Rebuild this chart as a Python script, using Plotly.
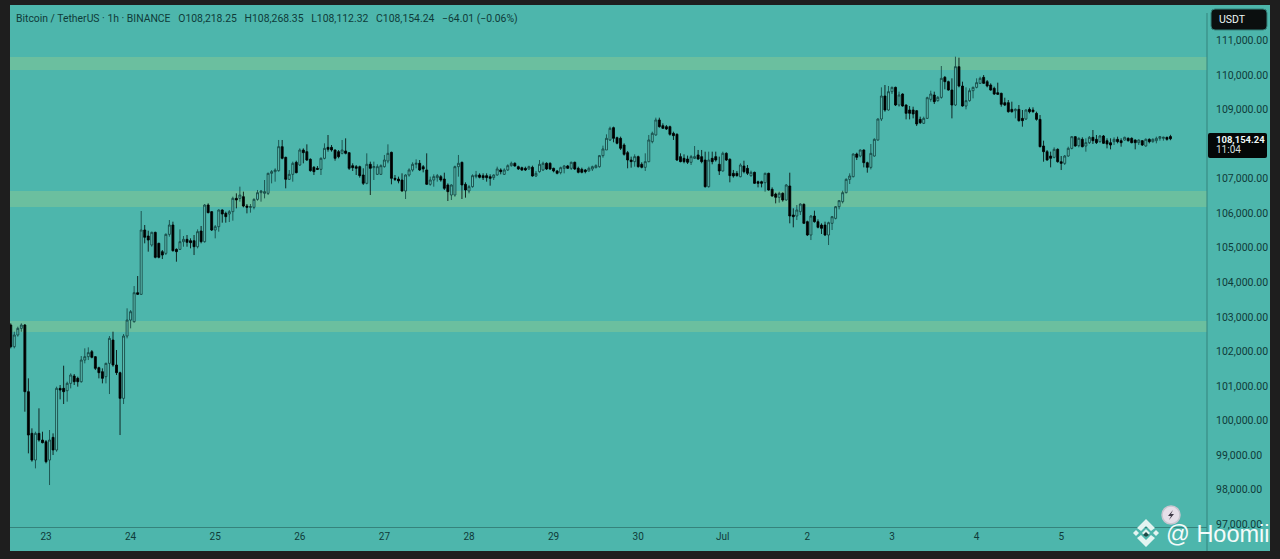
"""BTC/USDT 1h candles with three supply/demand bands, TradingView look."""

import pandas as pd
import plotly.graph_objects as go

# ── data ─────────────────────────────────────────────────────────────────────

FIRST_BAR = "2025-06-22 14:00"

opens = [
    102764,102137,102475,102668,102764,100835,99630,98857,99629,99436,
    99388,98857,99513,99147,100931,100931,100864,101076,101288,101221,
    101124,101751,101848,101993,101848,101530,101414,101269,101655,102330,
    101607,101385,100642,102446,102909,102861,103700,103652,105514,105340,
    105080,105446,105128,104887,104838,105388,105658,104954,104954,105176,
    105244,105205,105205,105031,105485,105176,106237,106045,105514,105610,
    106093,105996,105977,106045,106430,106430,106479,106208,106170,106170,
    106401,106594,106575,106575,107154,107202,107231,107926,107617,106980,
    107125,107472,107395,107829,107781,107559,107328,107299,107270,107588,
    107906,107906,107829,107781,107733,107801,107752,107376,107347,107347,
    107106,106865,107415,107318,107125,107125,107347,107511,107762,107009,
    106990,106961,106643,107106,107251,107415,107444,107347,107251,106836,
    106961,107029,107058,106990,106817,106527,106527,107347,107473,106836,
    106643,106768,107058,107106,107087,107087,107058,107029,107106,107251,
    107125,107251,107376,107444,107347,107318,107299,107280,107328,107077,
    107203,107251,107444,107444,107299,107222,107174,107299,107367,107299,
    107473,107299,107270,107251,107222,107280,107318,107347,107666,107830,
    108119,108476,108187,108167,107974,107752,107540,107492,107637,107415,
    107328,107492,108071,108264,108698,108534,108505,108505,108312,108283,
    107637,107588,107569,107473,107588,107685,107637,107540,106768,107588,
    107637,107415,107222,107733,107560,107154,107154,107057,107366,107298,
    107086,107183,106912,106912,106884,107154,106691,106555,106459,106575,
    106382,106787,105948,105919,106044,106256,105755,105369,105919,105755,
    105658,105658,105369,105707,105851,106189,106334,106594,106980,107057,
    107713,107655,107829,107462,107327,107655,108118,108726,109392,108987,
    109517,109643,109131,109450,109131,108987,108987,108967,108716,108601,
    108745,109295,109421,109257,109353,109932,109807,109565,109131,110241,
    109681,109102,109257,109546,109643,109758,109932,109807,109710,109614,
    109488,109469,109199,109199,109006,108967,109006,108745,108726,109006,
    108987,108890,108716,107945,107781,107655,107617,107848,107491,107443,
    107655,107877,108215,107954,108138,107945,108041,108196,108138,108070,
    108234,108099,108041,108070,108138,108099,108118,108167,108167,108118,
    108041,108099,107945,108138,108070,108099,108167,108167,108196,108218.25,
]

highs = [
    102813,102571,102716,102813,102793,101221,99774,99677,100353,99677,
    99436,99726,99629,100980,101028,101587,101124,101366,101346,101269,
    101867,102089,102118,102041,101867,101558,101510,101674,102446,102571,
    102041,101414,102504,103247,103198,103893,104182,106064,105658,105494,
    105465,105465,105147,104935,105417,105803,105755,104983,105533,105340,
    105369,105273,105369,105533,105630,106266,106286,106064,105659,106112,
    106112,106045,106093,106479,106575,106768,106623,106266,106266,106430,
    106672,106672,106961,107173,107250,107299,108119,108119,107636,107250,
    107492,107520,107877,107877,107993,107588,107366,107366,107617,108022,
    108263,107974,107848,107829,108119,108167,107762,107444,107395,107376,
    107299,107733,107492,107492,107415,107415,107685,107993,107781,107106,
    107058,107154,107125,107299,107473,107559,107540,107395,107733,107058,
    107125,107135,107106,107173,106865,106836,107376,107685,107492,106894,
    106817,107125,107222,107154,107154,107154,107125,107125,107347,107299,
    107299,107415,107492,107473,107376,107347,107347,107376,107376,107222,
    107540,107492,107473,107473,107318,107251,107347,107396,107396,107492,
    107492,107347,107318,107280,107347,107376,107415,107685,107955,108283,
    108505,108505,108216,108216,108023,107801,107637,107704,107666,107473,
    107733,108264,108360,108765,108765,108601,108553,108534,108360,108312,
    107733,107704,107666,107685,107945,107830,107830,107781,107781,107781,
    107781,107637,107781,107762,107588,107251,107222,107443,107520,107395,
    107231,107202,106941,106941,107173,107173,106748,106594,106623,106604,
    106845,107173,106141,106237,106285,106285,105784,105948,106073,105822,
    105707,105755,105755,105919,106208,106382,106652,107009,107154,107732,
    107752,107848,107848,107491,108003,108167,108745,109643,109710,109681,
    109662,109662,109517,109469,109151,109102,109083,108987,108794,108794,
    109372,109546,109517,109392,110260,109971,109835,109903,110530,110501,
    109807,109643,109614,109662,109903,109951,109999,109855,109758,109662,
    109778,109488,109343,109276,109228,109035,109131,108987,109006,109064,
    109064,108938,108842,108099,107829,107781,107906,107877,107655,107684,
    107925,108234,108234,108196,108196,108167,108234,108408,108263,108263,
    108263,108167,108167,108196,108215,108167,108215,108196,108196,108138,
    108138,108118,108167,108167,108167,108215,108234,108215,108215,108268.35,
]

lows = [
    102089,102089,102427,102571,100256,99050,98809,98616,99388,99340,
    98761,98134,99002,99098,100613,100478,100546,100931,101028,100980,
    101095,101655,101751,101800,101462,101221,101076,101076,100767,101558,
    101317,99581,100478,102378,102668,102832,103633,103633,105128,104887,
    105031,104694,104694,104674,104790,105321,104887,104597,104935,105031,
    105031,104983,104790,104983,105128,105147,105996,105485,105273,105466,
    105726,105726,105745,105784,106141,106334,106170,105996,106016,106112,
    106363,106334,106430,106527,106864,106913,107202,107559,106720,106961,
    106913,107154,107366,107443,107511,107202,107106,107250,107106,107559,
    107781,107781,107520,107588,107704,107704,107251,107222,107106,107029,
    106817,106836,106527,106961,107106,107106,107318,107444,106836,106932,
    106865,106624,106411,107058,107202,107299,107222,107183,106817,106797,
    106768,106913,106913,106672,106353,106382,106479,107058,106411,106450,
    106575,106739,107009,107009,106961,106913,106797,106961,107087,107125,
    107106,107222,107347,107347,107251,107222,107222,107251,107058,107048,
    107174,107222,107251,107251,107183,107125,107125,107154,107280,107251,
    107251,107154,107154,107154,107203,107222,107299,107318,107608,107830,
    108090,108052,107994,107830,107666,107299,107318,107347,107318,107299,
    107222,107473,108023,108244,108476,108437,108408,108244,108119,107511,
    107473,107444,107424,107396,107569,107540,107444,106740,106740,107415,
    107492,107106,107203,107511,106894,107029,107058,107038,107154,107105,
    107057,106845,106748,106748,106623,106652,106478,106285,106305,106334,
    106363,105707,105591,105803,105948,105687,105340,105224,105726,105562,
    105398,105340,105079,105514,105822,106112,106285,106575,106845,107038,
    107539,107617,107327,107173,107269,107636,108099,108668,108938,108967,
    109450,109102,109083,109083,108716,108716,108745,108523,108581,108581,
    108726,109228,109160,109228,109315,109585,109546,108745,109102,109643,
    109083,109006,109228,109324,109614,109739,109739,109643,109546,109421,
    109421,109083,109102,108909,108909,108745,108649,108504,108697,108890,
    108909,108678,107906,107491,107520,107327,107588,107462,107250,107395,
    107636,107848,107925,107906,107906,107781,108003,108003,108003,108041,
    108003,107877,107848,107974,108022,107925,108099,108070,108022,107848,
    107974,107945,107925,108022,108041,108022,108099,108099,108099,108112.32,
]

closes = [
    102137,102475,102668,102764,100835,99581,98857,99629,99436,99359,
    98809,99436,99147,100931,100883,100835,101076,101317,101124,101124,
    101751,101848,101964,101829,101510,101385,101221,101655,102378,101607,
    101385,100642,102446,102909,103150,103700,103652,105514,105302,105224,
    105446,104723,104723,104790,105388,105658,104916,104887,105176,105244,
    105157,105147,105031,105466,105176,106237,106016,105514,105610,106093,
    105977,105900,106045,106430,106382,106527,106208,106170,106189,106401,
    106594,106643,106623,107154,107202,107250,107926,107588,106980,107125,
    107443,107173,107829,107752,107540,107231,107202,107270,107588,107877,
    107848,107829,107588,107636,107829,107733,107299,107318,107299,107087,
    106865,107415,107299,107347,107347,107376,107540,107733,107009,106981,
    106932,106643,107106,107251,107415,107444,107251,107280,106836,106961,
    107058,107087,106961,106720,106624,106817,107347,107444,106817,106672,
    106768,107087,107106,107038,107029,107029,107009,107106,107280,107202,
    107251,107376,107444,107366,107280,107251,107251,107347,107077,107154,
    107415,107444,107280,107280,107222,107154,107318,107367,107299,107473,
    107280,107183,107183,107203,107299,107347,107376,107666,107859,108167,
    108457,108167,108023,107878,107704,107540,107492,107637,107347,107328,
    107492,108119,108312,108698,108505,108457,108437,108283,108244,107540,
    107492,107492,107473,107637,107637,107569,107492,106768,107540,107492,
    107540,107222,107733,107540,107087,107077,107087,107395,107202,107154,
    107183,106864,106864,106864,107154,106671,106498,106459,106575,106382,
    106816,105919,105899,106092,106266,105707,105369,105919,105755,105591,
    105562,105369,105726,105899,106189,106363,106594,106980,107076,107713,
    107617,107829,107462,107327,107732,108138,108726,109392,108987,109517,
    109643,109131,109421,109102,108890,108890,108871,108581,108620,108745,
    109343,109450,109228,109353,109903,109807,109565,109131,110241,109681,
    109102,109257,109546,109643,109778,109903,109758,109681,109565,109450,
    109440,109151,109131,108938,108938,109006,108678,108678,108987,108938,
    108938,108716,107925,107781,107539,107588,107848,107491,107443,107655,
    107877,108215,107945,108167,107925,108041,108196,108099,108041,108234,
    108022,108003,107974,108138,108070,108041,108196,108099,108041,108041,
    108118,107974,108138,108070,108138,108167,108215,108196,108138,108154.24,
]

band_lows = [110145, 106180, 102565]
band_highs = [110520, 106643, 102880]

day_ticks = ["2025-06-23", "2025-06-24", "2025-06-25", "2025-06-26", "2025-06-27",
             "2025-06-28", "2025-06-29", "2025-06-30", "2025-07-01", "2025-07-02",
             "2025-07-03", "2025-07-04", "2025-07-05"]
day_labels = ["23", "24", "25", "26", "27", "28", "29", "30", "Jul", "2", "3", "4", "5"]

# 108,000 sits under the last-price tag, so it has no label
price_ticks = [97000, 98000, 99000, 100000, 101000, 102000, 103000, 104000,
               105000, 106000, 107000, 109000, 110000, 111000]

HEADER = ("Bitcoin / TetherUS · 1h · BINANCE   O108,218.25   H108,268.35   "
          "L108,112.32   C108,154.24   −64.01 (−0.06%)")

# ── styling ──────────────────────────────────────────────────────────────────

FRAME = "#1e1e1e"
TEAL = "#4db6ac"
BAND = "#6bbf9f"
INK = "#0f3b39"
AXIS = "#35837c"
WHITE = "#eef8f6"

W, H = 1280, 559
L, R, T, B = 10, 1207, 13, 527


def px(x):
    """Window pixel x to paper fraction."""
    return (x - L) / (R - L)


def py(y):
    """Window pixel y to paper fraction."""
    return 1 - (y - T) / (B - T)


def poly(points):
    """SVG path through window pixels, for paper-referenced shapes."""
    head, *rest = points
    path = f"M{px(head[0])},{py(head[1])}"
    for x, y in rest:
        path += f" L{px(x)},{py(y)}"
    return path + " Z"


def rounded(x0, y0, x1, y1, r):
    """Rounded rectangle path in window pixels."""
    def at(x, y):
        return f"{px(x)},{py(y)}"
    return (f"M{at(x0 + r, y0)} L{at(x1 - r, y0)} Q{at(x1, y0)} {at(x1, y0 + r)} "
            f"L{at(x1, y1 - r)} Q{at(x1, y1)} {at(x1 - r, y1)} "
            f"L{at(x0 + r, y1)} Q{at(x0, y1)} {at(x0, y1 - r)} "
            f"L{at(x0, y0 + r)} Q{at(x0, y0)} {at(x0 + r, y0)} Z")


def label(x, y, text, size, color=INK, anchor="left", **kw):
    fig.add_annotation(xref="paper", yref="paper", x=px(x), y=py(y), text=text,
                       showarrow=False, xanchor=anchor, yanchor="middle",
                       font=dict(size=size, color=color), **kw)


# ── chart ────────────────────────────────────────────────────────────────────

times = pd.date_range(FIRST_BAR, periods=len(closes), freq="h")

fig = go.Figure(
    go.Candlestick(
        x=times, open=opens, high=highs, low=lows, close=closes,
        increasing=dict(line=dict(color="#123f3c", width=0.8), fillcolor="#5cc0b5"),
        decreasing=dict(line=dict(color="#000000", width=0.8), fillcolor="#000000"),
        whiskerwidth=0,
        showlegend=False,
    )
)

# teal panel first, bands on top of it, frame shows around it
fig.add_shape(type="rect", xref="paper", yref="paper", layer="below",
              x0=px(10), x1=px(1270), y0=py(551), y1=py(5),
              fillcolor=TEAL, line_width=0)
for low, high in zip(band_lows, band_highs):
    fig.add_hrect(y0=low, y1=high, fillcolor=BAND, line_width=0, layer="below")
# axis line runs on past the time scale
fig.add_shape(type="line", xref="paper", yref="paper", layer="below",
              x0=1, x1=1, y0=py(551), y1=py(13), line=dict(color=AXIS, width=1))

fig.update_layout(
    width=W, height=H,
    autosize=False,
    paper_bgcolor=FRAME,
    plot_bgcolor="rgba(0,0,0,0)",
    font=dict(family="Roboto, sans-serif", color=INK, size=10),
    margin=dict(l=L, r=W - R, t=T, b=H - B, pad=0),
    boxgap=0.2,
    xaxis=dict(
        range=["2025-06-22 13:47", "2025-07-06 17:22"],
        rangeslider_visible=False,
        tickmode="array", tickvals=day_ticks, ticktext=day_labels,
        showgrid=False, zeroline=False, showline=True, linecolor=AXIS, linewidth=1,
        ticks="", tickfont=dict(size=10, color=INK), tickangle=0,
    ),
    yaxis=dict(
        side="right",
        range=[96919, 111794],
        tickmode="array", tickvals=price_ticks,
        tickformat=",.2f",
        showgrid=False, zeroline=False, showline=False,
        ticks="", tickfont=dict(size=10.5, color=INK),
        ticklabelstandoff=8,
    ),
)

label(14, 19, HEADER, 10.4)

# USDT chip and last-price tag
fig.add_shape(type="path", xref="paper", yref="paper", path=rounded(1211, 9, 1267, 30, 4),
              fillcolor="#0b0f0f", line=dict(color=AXIS, width=1))
label(1217, 20, "USDT", 10.5, WHITE)
fig.add_shape(type="path", xref="paper", yref="paper", path=rounded(1208, 133, 1267, 158, 2),
              fillcolor="#040707", line_width=0)
label(1214, 139, "<b>108,154.24</b>", 9.5, WHITE)
label(1214, 150, "11:04", 10, "#d5dedd")

# Binance square watermark
LOGO = [
    [(1146, 519), (1155, 528), (1151, 531), (1146, 526), (1141, 531), (1137, 528)],
    [(1146, 547), (1137, 538), (1141, 535), (1146, 540), (1151, 535), (1155, 538)],
    [(1133, 533), (1136, 530), (1139, 533), (1136, 536)],
    [(1159, 533), (1156, 530), (1153, 533), (1156, 536)],
    [(1146, 529), (1150, 533), (1146, 537), (1142, 533)],
]
for part in LOGO:
    fig.add_shape(type="path", xref="paper", yref="paper", path=poly(part),
                  fillcolor="#e3f4f1", line_width=0)
fig.add_shape(type="path", xref="paper", yref="paper",
              path=poly([(1146, 532), (1149, 535), (1146, 537), (1143, 535)]),
              fillcolor="#1d4a47", line_width=0)

fig.add_shape(type="circle", xref="paper", yref="paper", x0=px(1162), x1=px(1180),
              y0=py(524), y1=py(506), fillcolor="#e6dfe9", line=dict(color="#c9c6d0", width=1.5))
fig.add_shape(type="path", xref="paper", yref="paper",
              path=poly([(1173, 510), (1168, 516), (1171, 516), (1169, 520), (1174, 514), (1171, 514)]),
              fillcolor="#3f3a48", line_width=0)

fig.add_annotation(xref="paper", yref="paper", x=px(1164), y=py(534), text="@ Hoomii",
                   showarrow=False, xanchor="left", yanchor="middle",
                   font=dict(family="Liberation Sans, Arial, sans-serif", size=23.5, color="#f4fbfa"))

fig.write_html("out.html", config={"displayModeBar": False},
               post_script="document.body.style.margin='0';document.body.style.overflow='hidden';")
